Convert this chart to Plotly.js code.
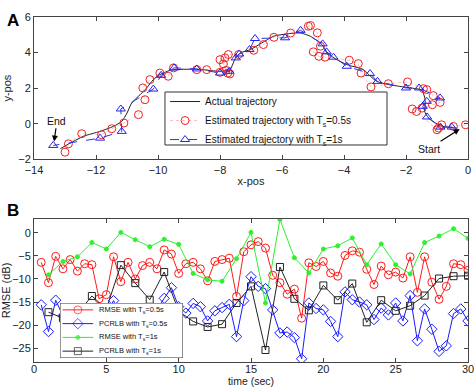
<!DOCTYPE html>
<html><head><meta charset="utf-8">
<script src="https://cdn.plot.ly/plotly-3.0.1.min.js"></script>
<style>html,body{margin:0;padding:0;background:#fff}</style>
</head><body><div id="chart" style="width:474px;height:388px"></div>
<script>
// ---------- Panel A: trajectories ----------
const actualX = [-0.35,-0.89,-1.27,-1.40,-1.38,-1.40,-1.50,-1.80,-2.20,-2.56,-2.94,-3.15,-3.37,-3.90,-4.23,-4.55,-4.71,-5.09,-5.41,-5.84,-6.27,-6.65,-7.02,-7.34,-7.50,-7.68,-8.00,-8.65,-9.18,-9.61,-9.94,-10.15,-10.37,-10.58,-10.85,-11.00,-11.17,-11.44,-11.87,-12.41,-13.15];
const actualY = [-0.25,-0.11,0.32,0.70,1.10,1.50,1.90,2.00,2.10,2.20,2.38,2.67,3.04,3.32,3.60,3.98,4.45,4.92,5.10,5.05,4.92,4.54,4.17,3.98,3.70,3.04,2.95,3.05,3.06,3.00,2.76,2.48,2.00,1.63,1.16,0.60,0.13,-0.15,-0.43,-0.71,-1.40];

const est05X = [-0.08,-0.47,-0.85,-0.95,-1.00,-1.66,-1.80,-1.48,-1.15,-0.90,-1.12,-1.33,-1.44,-1.95,-2.57,-3.13,-3.45,-3.54,-3.83,-4.61,-4.81,-4.99,-4.76,-4.86,-5.08,-5.15,-5.72,-6.26,-6.60,-6.91,-7.40,-7.73,-7.84,-8.00,-7.89,-7.81,-7.75,-7.68,-8.00,-8.43,-8.75,-9.50,-9.67,-9.94,-10.26,-10.49,-10.42,-10.63,-11.10,-11.49,-11.82,-12.46,-12.89,-13.00];
const est05Y = [-0.06,-0.15,-0.06,-0.24,-0.34,0.69,0.83,0.88,1.07,1.20,1.58,1.92,1.97,2.35,2.25,2.07,2.85,3.38,3.57,3.74,3.79,4.04,4.36,5.11,5.52,5.48,5.10,4.86,4.45,4.13,3.89,3.89,3.70,3.60,3.36,3.00,2.85,2.80,2.89,3.04,3.04,3.14,2.67,2.85,2.48,2.01,1.35,0.51,0.04,-0.28,-0.62,-0.56,-1.13,-1.60];

const est1X = [-0.52,-0.89,-1.32,-1.46,-1.33,-0.90,-1.58,-2.00,-2.92,-3.16,-3.91,-4.34,-4.56,-4.69,-5.40,-5.90,-6.87,-7.05,-7.38,-7.49,-7.70,-8.00,-8.75,-9.48,-9.90,-10.15,-11.20,-11.17,-11.87,-13.38];
const est1Y = [-0.19,-0.19,0.38,0.98,1.26,1.45,2.01,2.01,2.38,2.82,3.23,3.74,4.04,4.49,5.25,4.83,4.79,4.17,3.92,3.70,2.95,2.85,3.08,3.14,2.72,1.95,0.83,-0.43,-0.81,-1.22];

const trajNames = ['Actual trajectory','Estimated trajectory with T<sub>s</sub>=0.5s','Estimated trajectory with T<sub>s</sub>=1s'];

// ---------- Panel B: RMSE / PCRLB ----------
const tHalf = [0.5,1,1.5,2,2.5,3,3.5,4,4.5,5,5.5,6,6.5,7,7.5,8,8.5,9,9.5,10,10.5,11,11.5,12,12.5,13,13.5,14,14.5,15,15.5,16,16.5,17,17.5,18,18.5,19,19.5,20,20.5,21,21.5,22,22.5,23,23.5,24,24.5,25,25.5,26,26.5,27,27.5,28,28.5,29,29.5,30];
const rmse05 = [-6.4,-10.8,-5.1,-7.8,-5.8,-8.3,-6.7,-6.9,-14.3,-13.4,-5.2,-10.6,-6.4,-10.0,-7.1,-6.4,-7.8,-3.7,-4.6,-8.8,-6.7,-6.4,-7.8,-10.4,-6.2,-5.8,-5.5,-13.8,-4.1,-2.6,-1.9,-3.3,-9.2,-10.8,-13.3,-12.2,-18.5,-6.5,-7.3,-6.2,-8.7,-9.4,-4.9,-3.9,-4.2,-7.9,-11.2,-7.2,-9.1,-8.5,-9.8,-5.2,-12.9,-5.2,-10.7,-14.4,-11.6,-6.7,-6.9,-8.1];
const pcrlb05 = [-15.6,-21.4,-14.6,-18.0,-19.5,-17.0,-20.0,-18.5,-19.0,-17.5,-14.7,-18.5,-20.0,-17.5,-19.0,-18.0,-16.5,-14.2,-11.9,-16.0,-17.4,-15.3,-16.0,-19.1,-16.9,-16.2,-15.5,-22.5,-14.7,-9.5,-11.6,-12.1,-16.7,-21.7,-21.5,-22.7,-27.3,-15.2,-16.4,-16.7,-19.2,-22.5,-12.8,-14.5,-15.0,-15.6,-18.8,-16.3,-17.8,-15.2,-19.1,-13.6,-23.4,-16.5,-20.9,-25.7,-24.5,-17.5,-16.5,-19.1];
const tOne = [1,2,3,4,5,6,7,8,9,10,11,12,13,14,15,16,17,18,19,20,21,22,23,24,25,26,27,28,29,30];
const rmse1 = [-9.1,-6.2,-5.2,-2.1,-3.5,0.1,-1.5,-3.0,-1.4,-2.5,-8.8,-10.2,-10.5,-5.6,0.1,-15.2,2.9,-5.4,-8.7,-3.5,-2.8,-1.1,-6.9,-2.4,-6.9,-8.9,-2.1,-0.7,0.9,-1.2];
const pcrlb1 = [-17.2,-18.5,-17.5,-13.7,-16.5,-7.0,-10.9,-14.5,-8.5,-17.0,-19.2,-20.4,-19.8,-15.2,-11.6,-25.4,-7.4,-14.3,-16.8,-11.4,-14.6,-11.0,-19.4,-14.6,-16.9,-15.8,-13.6,-9.9,-9.4,-9.3];
const seriesNames = ['RMSE with T<sub>s</sub>=0.5s','PCRLB with T<sub>s</sub>=0.5s','RMSE with T<sub>s</sub>=1s','PCRLB with T<sub>s</sub>=1s'];

const RED='#ff1a1a', BLUE='#1a1aff', GREEN='#2ef02e', BLACK='#222222';
const seriesStyle = [
  {color:RED, symbol:'circle-open', size:8},
  {color:BLUE, symbol:'diamond-open', size:8},
  {color:GREEN, symbol:'circle', size:4},
  {color:BLACK, symbol:'square-open', size:7}
];
const seriesX = [tHalf, tHalf, tOne, tOne];
const seriesY = [rmse05, pcrlb05, rmse1, pcrlb1];

const traces = [
  {x:actualX, y:actualY, type:'scatter', mode:'lines', name:trajNames[0], line:{color:'#222', width:1, shape:'spline', smoothing:0.6}, xaxis:'x', yaxis:'y'},
  {x:est05X, y:est05Y, type:'scatter', mode:'lines+markers', name:trajNames[1], line:{color:'rgba(255,90,90,0.4)', width:1, dash:'dot'}, marker:{symbol:'circle-open', size:8, color:'#ee2222', line:{width:1}}, xaxis:'x', yaxis:'y'},
  {x:est1X, y:est1Y, type:'scatter', mode:'lines+markers', name:trajNames[2], line:{color:'#3030ee', width:1, dash:'dash'}, marker:{symbol:'triangle-up-open', size:8, color:'#2222ee', line:{width:1}}, xaxis:'x', yaxis:'y'}
];
for (let i=0;i<4;i++){
  traces.push({x:seriesX[i], y:seriesY[i], type:'scatter', mode:'lines+markers', showlegend:false, name:seriesNames[i],
    line:{color:seriesStyle[i].color, width:1}, marker:{symbol:seriesStyle[i].symbol, size:seriesStyle[i].size, color:seriesStyle[i].color, line:{width:1, color:seriesStyle[i].color}},
    xaxis:'x2', yaxis:'y2'});
}
// compact legend for panel B, drawn on an overlay axis
const legRows = [3.5,2.5,1.5,0.5];
const annotations = [];
for (let i=0;i<4;i++){
  traces.push({x:[0.02,0.145,0.27], y:[legRows[i],legRows[i],legRows[i]], type:'scatter', mode:'lines+markers', showlegend:false, hoverinfo:'skip',
    line:{color:seriesStyle[i].color, width:1}, marker:{symbol:seriesStyle[i].symbol, size:[0,seriesStyle[i].size,0], color:seriesStyle[i].color, line:{width:1,color:seriesStyle[i].color}},
    xaxis:'x3', yaxis:'y3'});
  annotations.push({xref:'x3', yref:'y3', x:0.3, y:legRows[i], xanchor:'left', yanchor:'middle', showarrow:false, text:seriesNames[i], font:{family:'Arial', size:7.5, color:'#111'}});
}
annotations.push({xref:'paper', yref:'paper', x:-0.066, y:1.024, text:'<b>A</b>', showarrow:false, font:{family:'Arial', size:17, color:'#000'}});
annotations.push({xref:'paper', yref:'paper', x:-0.066, y:0.438, text:'<b>B</b>', showarrow:false, font:{family:'Arial', size:17, color:'#000'}});
annotations.push({xref:'x', yref:'y', x:-13.35, y:-1.0, axref:'x', ayref:'y', ax:-13.26, ay:0.17, text:'End', showarrow:true, arrowhead:2, arrowsize:1, arrowwidth:1.2, arrowcolor:'#000', standoff:0, font:{family:'Arial', size:10.5, color:'#111'}});
annotations.push({xref:'x', yref:'y', x:-0.27, y:-0.3, axref:'x', ayref:'y', ax:-1.26, ay:-1.41, text:'Start', showarrow:true, arrowhead:2, arrowsize:1, arrowwidth:1.2, arrowcolor:'#000', standoff:0, font:{family:'Arial', size:10.5, color:'#111'}});

const axBase = {showline:true, mirror:'ticks', ticks:'inside', ticklen:4, tickcolor:'#444', linecolor:'#444', linewidth:1, showgrid:false, zeroline:false, ticklabeloverflow:'allow', tickfont:{family:'Arial', size:11, color:'#222'}};
const layout = {
  width:474, height:388, margin:{l:34, r:6, t:17, b:26}, paper_bgcolor:'#fff', plot_bgcolor:'#fff',
  font:{family:'Arial', color:'#222'},
  xaxis: Object.assign({}, axBase, {domain:[0,1], range:[-14,0], dtick:2, anchor:'y', title:{text:'x-pos', font:{size:11}, standoff:2}}),
  yaxis: Object.assign({}, axBase, {domain:[0.5875,1], range:[-2,6], dtick:2, anchor:'x', title:{text:'y-pos', font:{size:11}, standoff:4}}),
  xaxis2: Object.assign({}, axBase, {domain:[0,1], range:[0,30], dtick:5, anchor:'y2', ticklabelstandoff:-3, title:{text:'time (sec)', font:{size:10.5}, standoff:0}}),
  yaxis2: Object.assign({}, axBase, {domain:[0,0.4145], range:[-28,3], dtick:5, anchor:'x2', title:{text:'RMSE (dB)', font:{size:11}, standoff:4}}),
  xaxis3: {domain:[0.06,0.343], range:[0,1], visible:false, anchor:'y3', fixedrange:true},
  yaxis3: {domain:[0.0116,0.171], range:[0,4], visible:false, anchor:'x3', fixedrange:true},
  showlegend:true,
  legend:{x:0.302, y:0.797, xanchor:'left', yanchor:'top', bgcolor:'rgba(0,0,0,0)', borderwidth:0, font:{family:'Arial', size:10, color:'#111'}, tracegroupgap:0},
  shapes:[
    {type:'rect', xref:'paper', yref:'paper', x0:0.3018, x1:0.8134, y0:0.629, y1:0.7826, layer:'above', fillcolor:'#fff', line:{color:'#333', width:1}},
    {type:'rect', xref:'x3', yref:'y3', x0:0, x1:1, y0:0, y1:4, layer:'between', fillcolor:'#fff', line:{color:'#333', width:1}}
  ],
  annotations: annotations
};
Plotly.newPlot('chart', traces, layout, {displayModeBar:false, staticPlot:true});
</script></body></html>
